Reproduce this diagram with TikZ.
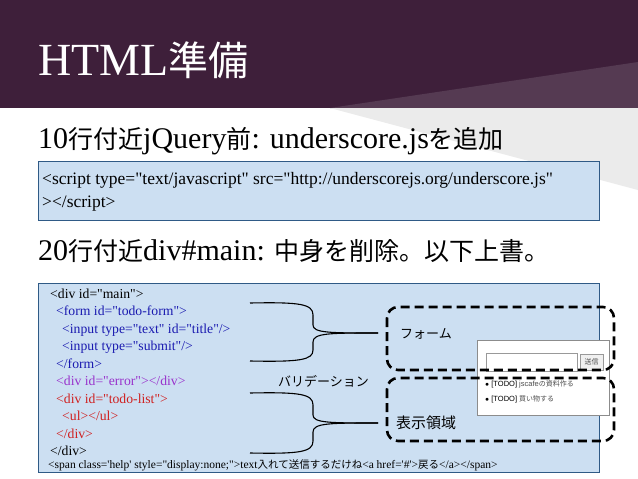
\documentclass[tikz,border=0pt]{standalone}
\usepackage{fontspec}
\setmainfont{Liberation Serif}[Ligatures=TeXOff]
\newfontfamily\jp{Noto Sans CJK JP}
\newfontfamily\jps{Liberation Sans}
\usetikzlibrary{calc}
\definecolor{hdr}{HTML}{3E1F3A}
\definecolor{hdrl}{HTML}{553A52}
\definecolor{boxfill}{HTML}{CCDFF2}
\definecolor{boxline}{HTML}{2F5A86}
\definecolor{cblue}{HTML}{1A1AB0}
\definecolor{cpurple}{HTML}{9933CC}
\definecolor{cred}{HTML}{D02020}
\tikzset{
 codebox/.style={fill=boxfill,draw=boxline,line width=0.9pt},
 code/.style={anchor=base west,inner sep=0pt,font=\fontsize{13.7}{15}\selectfont},
 brace/.style={line width=1.1pt,black},
 dbox/.style={dashed,line width=2.6pt,dash pattern=on 9pt off 5pt,rounded corners=11pt},
 lbl/.style={anchor=base west,inner sep=0pt,font=\jp\fontsize{13}{15}\selectfont},
}
\begin{document}
\begin{tikzpicture}[x=1pt,y=-1pt]
\useasboundingbox (0,0) rectangle (638,479);
\fill[white] (0,0) rectangle (638,479);
\fill[hdr] (0,0) rectangle (638,108);
\fill[hdrl] (330,108) -- (638,62) -- (638,108) -- cycle;
\fill[black!8] (330,108) -- (638,108) -- (638,190) -- cycle;
\node[anchor=base west,inner sep=0pt,text=white,font=\fontsize{46}{50}\selectfont] (title) at (38,75) {HTML{\jp\fontsize{40}{44}\selectfont 準備}};
\node[anchor=base west,inner sep=0pt,font=\fontsize{30}{32}\selectfont] (h1) at (38,148) {10{\jp\fontsize{25}{28}\selectfont 行付近}jQuery{\jp\fontsize{25}{28}\selectfont 前}: underscore.js{\jp\fontsize{25}{28}\selectfont を追加}};
\draw[codebox] (38,161) rectangle (599,220);
\node[anchor=base west,inner sep=0pt,font=\fontsize{17.5}{19}\selectfont] (s1) at (42,184) {<script type="text/javascript" src="http://underscorejs.org/underscore.js"};
\node[anchor=base west,inner sep=0pt,font=\fontsize{17.5}{19}\selectfont] (s2) at (42,207) {></script>};
\node[anchor=base west,inner sep=0pt,font=\fontsize{30}{32}\selectfont] (h2) at (38,260) {20{\jp\fontsize{25}{28}\selectfont 行付近}div\#main: {\jp\fontsize{25}{28}\selectfont 中身を削除。以下上書。}};
\draw[codebox] (38,283) rectangle (599,472);
\node[code] (c1) at (50,298) {<div id="main">};
\node[code,text=cblue] (c2) at (56,315) {<form id="todo-form">};
\node[code,text=cblue] (c3) at (62,333) {<input type="text" id="title"/>};
\node[code,text=cblue] (c4) at (62,350) {<input type="submit"/>};
\node[code,text=cblue] (c5) at (56,368) {</form>};
\node[code,text=cpurple] (c6) at (56,385) {<div id="error"></div>};
\node[code,text=cred] (c7) at (56,403) {<div id="todo-list">};
\node[code,text=cred] (c8) at (62,420) {<ul></ul>};
\node[code,text=cred] (c9) at (56,438) {</div>};
\node[code] (c10) at (50,455) {</div>};
\node[code,font=\fontsize{11.5}{13}\selectfont] (c11) at (48,468) {<span class='help' style="display:none;">text{\jp\fontsize{10.5}{12}\selectfont 入れて送信するだけね}<a href='\#'>{\jp\fontsize{10.5}{12}\selectfont 戻る}</a></span>};
% braces
\coordinate (ua) at (250,303); \coordinate (ub) at (250,361); \coordinate (ut) at (378,333);
\draw[brace] (ua) .. controls (300,302) and (313,304) .. (313,315) -- (313,325) .. controls (313,333) and (330,333) .. (ut);
\draw[brace] (ub) .. controls (300,362) and (313,360) .. (313,350) -- (313,342) .. controls (313,333) and (330,333) .. (ut);
\coordinate (la) at (250,393); \coordinate (lb) at (250,453); \coordinate (lt) at (378,423);
\draw[brace] (la) .. controls (300,392) and (313,394) .. (313,405) -- (313,415) .. controls (313,423) and (330,423) .. (lt);
\draw[brace] (lb) .. controls (300,454) and (313,452) .. (313,441) -- (313,432) .. controls (313,423) and (330,423) .. (lt);
\node[lbl] (val) at (278,386) {バリデーション};
% screenshot
\draw[black!45,fill=white] (477,340) rectangle (609,415);
\draw[black!40,fill=white] (486,353) rectangle (577,371);
\draw[black!40,fill=black!6] (580,354) rectangle (603,370);
\node[font=\jp\fontsize{7}{8}\selectfont,text=black!70] (send) at (591.5,362) {送信};
\node[anchor=base west,inner sep=0pt,font=\jps\fontsize{7.5}{9}\selectfont] (li1) at (485,386) {$\bullet$\ [TODO] {\color{black!70}jscafe{\jp\fontsize{7}{8}\selectfont の資料作る}}};
\node[anchor=base west,inner sep=0pt,font=\jps\fontsize{7.5}{9}\selectfont] (li2) at (485,401) {$\bullet$\ [TODO] {\color{black!70}\jp\fontsize{7}{8}\selectfont 買い物する}};
% dashed boxes
\draw[dbox] (387,307) rectangle (614,370);
\draw[dbox] (387,378) rectangle (614,441);
\node[lbl] (f) at (400,338) {フォーム};
\node[lbl,font=\jp\fontsize{15}{17}\selectfont] (d) at (396,428) {表示領域};
\end{tikzpicture}
\end{document}
